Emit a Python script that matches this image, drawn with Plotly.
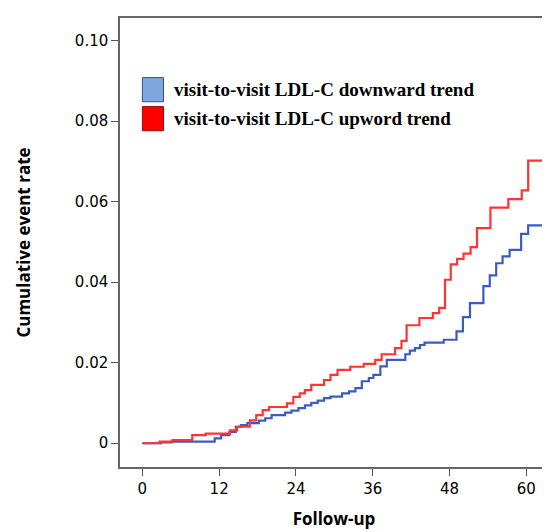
import plotly.graph_objects as go

# follow-up months and cumulative event rate
down_x = [0, 2.9, 4.6, 11.3, 12.3, 13.6, 14.6, 15.4, 16.4, 18.2, 19.2, 20.2, 22.3, 23.3, 24.4, 25.4,
          26.4, 27.4, 28.4, 29.4, 31.2, 32.3, 33.3, 34.3, 35.4, 36.1, 37.2, 38.2, 41.1, 41.8, 42.6,
          43.4, 44.1, 47.1, 49.1, 50.1, 51.2, 53.3, 54.3, 55.3, 56.3, 57.4, 59.2, 60.3, 63.4]
down_y = [0, 0.0002, 0.0004, 0.0012, 0.002, 0.0028, 0.0041, 0.0045, 0.005, 0.0056, 0.0062, 0.007,
          0.0076, 0.0081, 0.0087, 0.0094, 0.010, 0.0106, 0.0112, 0.0116, 0.0124, 0.0129, 0.0137,
          0.0154, 0.0162, 0.017, 0.0191, 0.0207, 0.0221, 0.023, 0.0236, 0.0244, 0.025, 0.0257,
          0.0278, 0.0313, 0.0348, 0.039, 0.0417, 0.0447, 0.0464, 0.048, 0.052, 0.0541, 0.0541]

up_x = [0, 2.7, 4.7, 7.8, 9.9, 13.7, 14.8, 16.8, 17.8, 18.8, 19.8, 22.6, 23.6, 24.6, 25.4, 26.4,
        28.4, 29.4, 30.5, 32.5, 34.6, 36.4, 37.4, 39.5, 40.5, 41.3, 43.3, 45.4, 46.4, 47.3, 48.2,
        49.2, 50.2, 51.3, 52.3, 54.4, 57.2, 59.3, 60.3, 62.7, 63.4]
up_y = [0, 0.0004, 0.0008, 0.002, 0.0024, 0.0032, 0.0041, 0.0057, 0.007, 0.0082, 0.009, 0.0099,
        0.0115, 0.0124, 0.0132, 0.0145, 0.0157, 0.017, 0.0182, 0.019, 0.0197, 0.0207, 0.0221,
        0.0236, 0.0254, 0.0293, 0.0311, 0.0323, 0.0336, 0.0406, 0.0444, 0.0458, 0.0471, 0.0487,
        0.0534, 0.0585, 0.0606, 0.0628, 0.0702, 0.0726, 0.0726]

x_ticks = [0, 12, 24, 36, 48, 60]
y_ticks = [0, 0.02, 0.04, 0.06, 0.08, 0.10]
y_labels = ['0', '0.02', '0.04', '0.06', '0.08', '0.10']
legend_names = ['visit-to-visit LDL-C downward trend', 'visit-to-visit LDL-C upword trend']

fig = go.Figure()
fig.add_trace(go.Scatter(x=down_x, y=down_y, mode='lines', line_shape='hv',
                         line=dict(color='#3a5cc0', width=2.2), name=legend_names[0]))
fig.add_trace(go.Scatter(x=up_x, y=up_y, mode='lines', line_shape='hv',
                         line=dict(color='#ff3333', width=2.2), name=legend_names[1]))

# legend boxes drawn by hand (square swatches)
sw = [('#7fa7dd', '#2d4f9a'), ('#ff0000', '#8a1010')]
for i, (name, (fill, edge)) in enumerate(zip(legend_names, sw)):
    yc = 0.0878 - i * 0.0072
    fig.add_shape(type='rect', xref='x', yref='y', x0=0, x1=3.3, y0=yc - 0.003, y1=yc + 0.003,
                  fillcolor=fill, line=dict(color=edge, width=1))
    fig.add_annotation(x=4.6, y=yc, xref='x', yref='y', text='<b>' + name + '</b>', showarrow=False,
                       xanchor='left', font=dict(family='Liberation Serif', size=19, color='black'))

axis_common = dict(showgrid=False, zeroline=False, showline=True, linecolor='#666', linewidth=1.5,
                   mirror=True, ticks='outside', ticklen=7, tickcolor='#555',
                   tickfont=dict(family='DejaVu Sans', size=15, color='black'))
fig.update_xaxes(range=[-3.5, 63.4], tickvals=x_ticks,
                 title=dict(text='<b>Follow-up</b>', font=dict(family='Open Sans', size=17, color='black'),
                            standoff=16), **axis_common)
fig.update_yaxes(range=[-0.0059, 0.1056], tickvals=y_ticks, ticktext=y_labels,
                 title=dict(text='<b>Cumulative event rate</b>', font=dict(family='Open Sans', size=17, color='black'),
                            standoff=40), **axis_common)
fig.update_layout(width=550, height=532, showlegend=False, plot_bgcolor='white', paper_bgcolor='white',
                  margin=dict(l=112, r=8, t=9, b=73))
fig.write_html("out.html")
